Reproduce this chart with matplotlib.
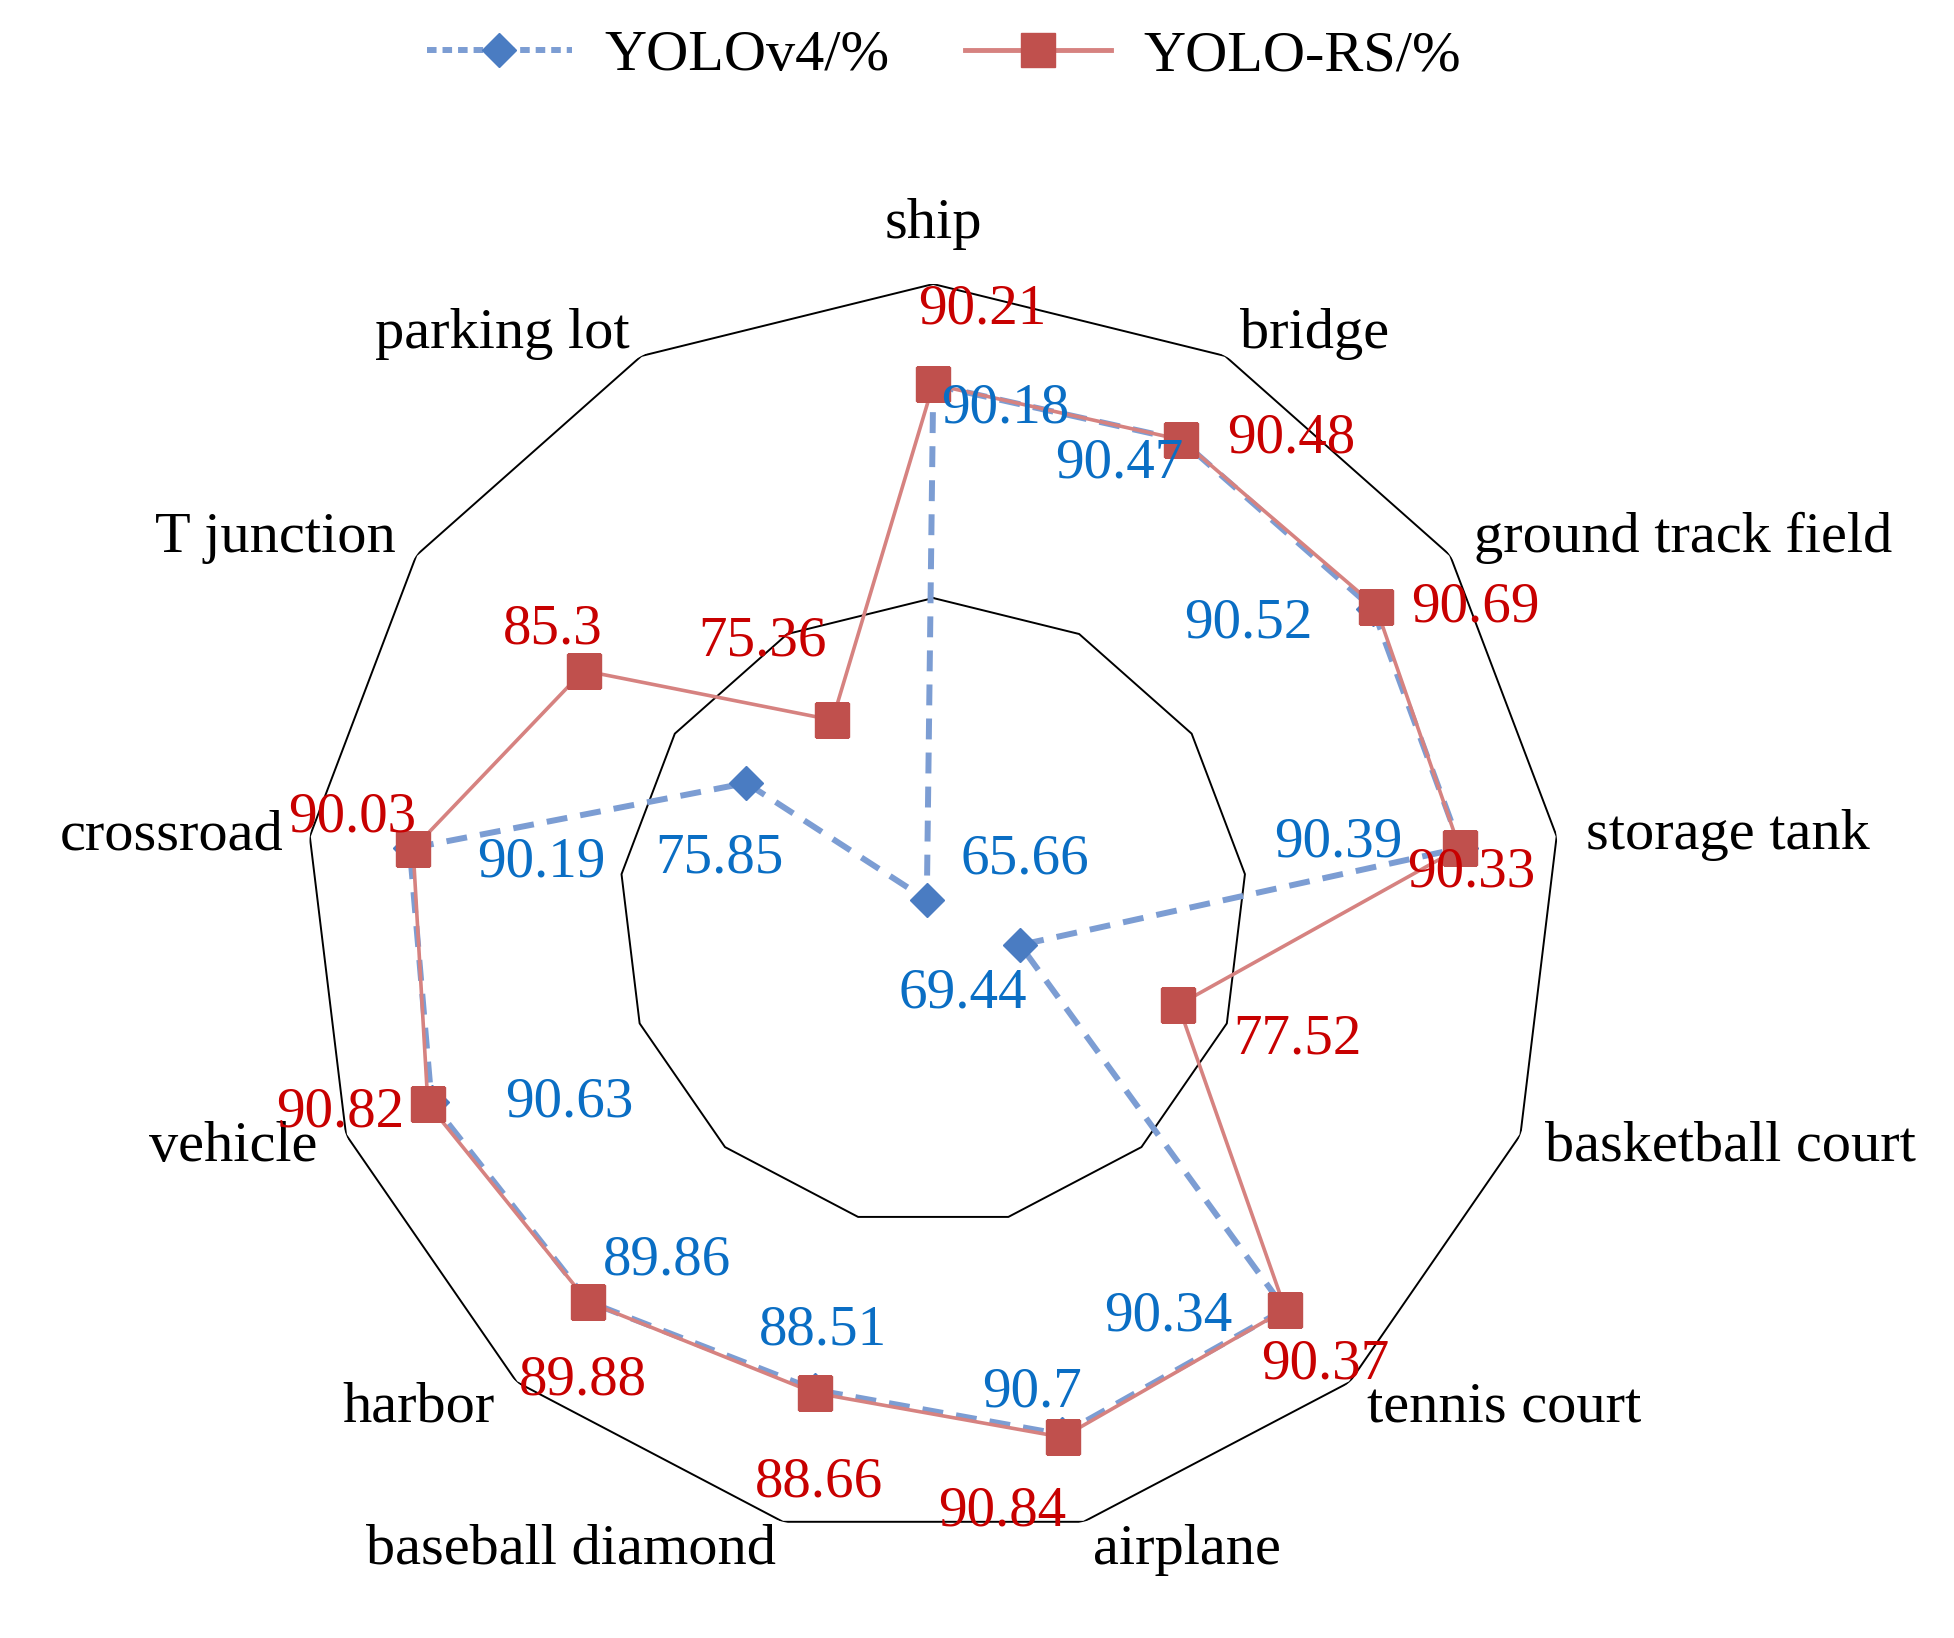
import numpy as np
import matplotlib
matplotlib.use("Agg")
import matplotlib.pyplot as plt
from matplotlib.lines import Line2D

plt.rcParams['font.family'] = ['Liberation Serif', 'DejaVu Serif']

# categories clockwise from the top
categories = ['ship', 'bridge', 'ground track field', 'storage tank', 'basketball court',
              'tennis court', 'airplane', 'baseball diamond', 'harbor', 'vehicle',
              'crossroad', 'T junction', 'parking lot']
yolov4 = [90.18, 90.47, 90.52, 90.39, 69.44, 90.34, 90.7, 88.51, 89.86, 90.63, 90.19, 75.85, 65.66]
yolors = [90.21, 90.48, 90.69, 90.33, 77.52, 90.37, 90.84, 88.66, 89.88, 90.82, 90.03, 85.3, 75.36]
series_names = ['YOLOv4/%', 'YOLO-RS/%']

r_min, r_mid, r_max = 65, 80, 95

# label offsets in pixels (x right, y up)
v4_off = [(72, -24), (-62, -24), (-125, -15), (-123, 5), (-57, -49), (-117, -7), (-30, 42),
          (7, 59), (79, 41), (138, 0), (132, -14), (-27, -75), (98, 40)]
rs_off = [(49, 75), (110, 1), (100, -1), (12, -24), (119, -35), (40, -55), (-60, -74),
          (4, -90), (-5, -79), (-88, -9), (-61, 31), (-31, 41), (-70, 79)]
cat_off = [(0, 60), (15, 22), (24, 17), (29, 1), (25, -12), (17, -25), (9, -28),
           (-7, -28), (-22, -25), (-29, -12), (-26, 1), (-21, 17), (-12, 22)]

blue_line = '#7C9DD3'
blue_mark = '#4A7CC2'
blue_text = '#0A6EC4'
red_line = '#D68280'
red_mark = '#C0504D'
red_text = '#C80000'
fs = 42
fs_val = 41

n = len(categories)
theta = np.arange(n) * 2 * np.pi / n
theta_c = np.append(theta, theta[0])

fig = plt.figure(figsize=(19.54, 16.38), dpi=100)
ax = fig.add_axes([0.1562, 0.0598, 0.6428, 0.7668], projection='polar')
ax.set_theta_offset(np.pi / 2)
ax.set_theta_direction(-1)
ax.set_ylim(r_min, r_max)
ax.grid(False)
ax.set_xticks([])
ax.set_yticks([])
ax.spines['polar'].set_visible(False)

# polygon grid
for rr in (r_mid, r_max):
    ax.plot(theta_c, [rr] * (n + 1), color='black', lw=1.4, zorder=1)

v4_c = yolov4 + yolov4[:1]
rs_c = yolors + yolors[:1]
ax.plot(theta_c, v4_c, color=blue_line, lw=4.3, dashes=(3.5, 2.2), zorder=2)
ax.plot(theta, yolov4, 'D', color=blue_mark, ms=17, mec=blue_mark, zorder=3)
ax.plot(theta_c, rs_c, color=red_line, lw=2.6, zorder=4)
ax.plot(theta, yolors, 's', color=red_mark, ms=25, mec=red_mark, zorder=5)

for i in range(n):
    ax.annotate(f'{yolov4[i]:g}', (theta[i], yolov4[i]), xytext=v4_off[i],
                textcoords='offset pixels', ha='center', va='center',
                color=blue_text, fontsize=fs_val, zorder=6, annotation_clip=False)
    ax.annotate(f'{yolors[i]:g}', (theta[i], yolors[i]), xytext=rs_off[i],
                textcoords='offset pixels', ha='center', va='center',
                color=red_text, fontsize=fs_val, zorder=6, annotation_clip=False)
    dx = cat_off[i][0]
    ha = 'center' if dx == 0 else ('left' if dx > 0 else 'right')
    ax.annotate(categories[i], (theta[i], r_max), xytext=cat_off[i],
                textcoords='offset pixels', ha=ha, va='center',
                color='black', fontsize=fs, annotation_clip=False)

handles = [
    Line2D([], [], color=blue_line, lw=4.3, dashes=(1.6, 1.0), marker='D', ms=17,
           mfc=blue_mark, mec=blue_mark),
    Line2D([], [], color=red_line, lw=3.5, marker='s', ms=25, mfc=red_mark, mec=red_mark),
]
fig.legend(handles, series_names, loc='center', bbox_to_anchor=(0.483, 0.966), ncol=2,
           frameon=False, fontsize=fs, handlelength=2.5, handletextpad=0.55,
           columnspacing=1.3)

fig.savefig('out.png', dpi=100, facecolor='white')
